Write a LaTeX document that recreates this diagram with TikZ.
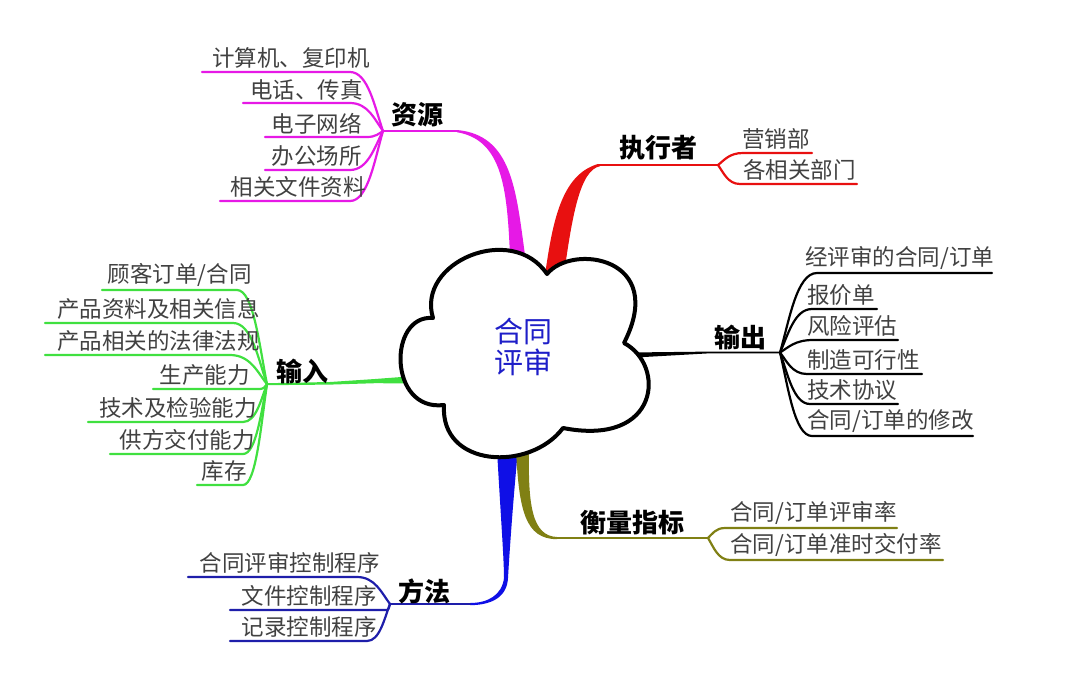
\documentclass[tikz,border=0pt]{standalone}
\usepackage{fontspec}
\newfontfamily\cjk{Noto Sans CJK SC}
\definecolor{mmmag}{RGB}{230,25,230}
\definecolor{mmred}{RGB}{232,16,16}
\definecolor{mmgreen}{RGB}{64,224,64}
\definecolor{mmblue}{RGB}{15,15,230}
\definecolor{mmblued}{RGB}{30,30,170}
\definecolor{mmolive}{RGB}{128,128,20}
\definecolor{leafgray}{RGB}{65,65,65}
\definecolor{centerblue}{RGB}{30,30,200}
\tikzset{
  leafline/.style={line width=2.2pt, line cap=round},
  leaftext/.style={font=\cjk\fontsize{22.5}{24}\selectfont, text=leafgray, inner sep=0pt},
  labeltext/.style={font=\cjk\bfseries\fontsize{26}{28}\selectfont, text=black, inner sep=0pt},
  centertext/.style={font=\cjk\fontsize{29}{31}\selectfont, text=centerblue, inner sep=0pt, align=center},
}
% left-side leaf: #1 name, #2 x1, #3 x2, #4 y, #5 text right x, #6 text, #7 fork, #8 colour
\newcommand{\mmL}[8]{%
  \coordinate (#1-s) at (#2,#4);
  \coordinate (#1-e) at (#3,#4);
  \draw[leafline,#8] (#1-s) -- (#1-e) .. controls ({#3+0.55*(\mmfx-#3)},#4) and ({\mmfx-0.25*(\mmfx-#3)},{\mmfy+0.4*(#4-\mmfy)}) .. (#7);
  \node[leaftext,anchor=south east] (#1) at (#5,#4-3) {#6};
}
% right-side leaf
\newcommand{\mmR}[8]{%
  \coordinate (#1-s) at (#2,#4);
  \coordinate (#1-e) at (#3,#4);
  \draw[leafline,#8] (#7) .. controls ({\mmfx+0.25*(#2-\mmfx)},{\mmfy+0.4*(#4-\mmfy)}) and ({\mmfx+0.45*(#2-\mmfx)},#4) .. (#1-s) -- (#1-e);
  \node[leaftext,anchor=south west] (#1) at (#5,#4-3) {#6};
}
\begin{document}
\begin{tikzpicture}[x=1pt,y=-1pt]
\useasboundingbox (0,0) rectangle (1080,675);
\fill[white] (0,0) rectangle (1080,675);

% ---------- trunks ----------
\fill[mmmag] (510,255) .. controls (507,190) and (503,140) .. (457,132.2) -- (457,130) .. controls (512,135) and (516,190) .. (525,255) -- cycle;
\fill[mmred] (544,282) .. controls (552,225) and (560,175) .. (598,164) -- (600,164) -- (600,166.2) .. controls (580,170) and (572,215) .. (563,282) -- cycle;
\fill[black] (630,352.5) -- (708,351.6) -- (780,351.6) -- (780,353.4) -- (708,353.4) -- (630,357.8) -- cycle;
\fill[mmgreen] (412,376.2) -- (375,379) -- (330,382) -- (267,383.2) -- (267,385.2) -- (330,384.6) -- (375,383.2) -- (412,383.4) -- cycle;
\fill[mmblue] (497,450) .. controls (501,520) and (504,560) .. (504,578) .. controls (502,595) and (488,603) .. (470,603) -- (470,605.2) .. controls (492,605) and (507,597) .. (508,578) .. controls (509,560) and (513,500) .. (518,450) -- cycle;
\fill[mmolive] (516,450) .. controls (519,510) and (525,539) .. (557,539.2) -- (557,537) .. controls (532,536) and (528,505) .. (529,450) -- cycle;

% ---------- cloud ----------
\coordinate (cA) at (433,318);
\coordinate (cB) at (547,274);
\coordinate (cC) at (624,343);
\coordinate (cD) at (563,428);
\coordinate (cE) at (444,405);
\draw[line width=4pt, line join=round, fill=white]
  (cA) .. controls (416,262) and (512,222) .. (cB)
       .. controls (572,243) and (668,257) .. (cC)
       .. controls (666,365) and (660,447) .. (cD)
       .. controls (530,472) and (440,468) .. (cE)
       .. controls (388,412) and (388,314) .. (cA) -- cycle;
\node[centertext] (center) at (523,347) {合同\\评审};

% ---------- 资源 ----------
\def\mmfx{383}\def\mmfy{131}
\coordinate (fzy) at (\mmfx,\mmfy);
\coordinate (tzy) at (457,131);
\draw[leafline,mmmag] (fzy) -- (tzy);
\node[labeltext] (lzy) at (417,115) {资源};
\mmL{zy1}{202}{350}{72}{370}{计算机、复印机}{fzy}{mmmag}
\mmL{zy2}{243}{350}{103}{363}{电话、传真}{fzy}{mmmag}
\mmL{zy3}{265}{367}{137}{362}{电子网络}{fzy}{mmmag}
\mmL{zy4}{265}{350}{170}{362}{办公场所}{fzy}{mmmag}
\mmL{zy5}{220}{350}{201}{366}{相关文件资料}{fzy}{mmmag}

% ---------- 执行者 ----------
\def\mmfx{718}\def\mmfy{165}
\coordinate (fzx) at (\mmfx,\mmfy);
\coordinate (tzx) at (598,165);
\draw[leafline,mmred] (tzx) -- (fzx);
\node[labeltext] (lzx) at (658,148) {执行者};
\mmR{zx1}{743}{812}{153}{742}{营销部}{fzx}{mmred}
\mmR{zx2}{740}{857}{184}{743}{各相关部门}{fzx}{mmred}

% ---------- 输出 ----------
\def\mmfx{780}\def\mmfy{352.5}
\coordinate (fsc) at (\mmfx,\mmfy);
\node[labeltext] (lsc) at (740,337) {输出};
\mmR{sc1}{817}{992}{273}{805}{经评审的合同/订单}{fsc}{black}
\mmR{sc2}{812}{877}{309}{807}{报价单}{fsc}{black}
\mmR{sc3}{813}{898}{340}{807}{风险评估}{fsc}{black}
\mmR{sc4}{807}{922}{374}{807}{制造可行性}{fsc}{black}
\mmR{sc5}{810}{898}{404}{807}{技术协议}{fsc}{black}
\mmR{sc6}{812}{973}{436}{807}{合同/订单的修改}{fsc}{black}

% ---------- 输入 ----------
\def\mmfx{267}\def\mmfy{384.2}
\coordinate (fsr) at (\mmfx,\mmfy);
\node[labeltext] (lsr) at (302,371) {输入};
\mmL{sr1}{102}{237}{290}{252}{顾客订单/合同}{fsr}{mmgreen}
\mmL{sr2}{45}{233}{323}{260}{产品资料及相关信息}{fsr}{mmgreen}
\mmL{sr3}{45}{230}{355}{260}{产品相关的法律法规}{fsr}{mmgreen}
\mmL{sr4}{153}{260}{389}{250}{生产能力}{fsr}{mmgreen}
\mmL{sr5}{88}{243}{422}{257}{技术及检验能力}{fsr}{mmgreen}
\mmL{sr6}{110}{243}{454}{255}{供方交付能力}{fsr}{mmgreen}
\mmL{sr7}{197}{243}{485}{247}{库存}{fsr}{mmgreen}

% ---------- 方法 ----------
\def\mmfx{390}\def\mmfy{604}
\coordinate (fff) at (\mmfx,\mmfy);
\coordinate (tff) at (470,604);
\draw[leafline,mmblued] (fff) -- (tff);
\node[labeltext] (lff) at (424,591) {方法};
\mmL{ff1}{188}{357}{577}{380}{合同评审控制程序}{fff}{mmblued}
\mmL{ff2}{230}{387}{610}{377}{文件控制程序}{fff}{mmblued}
\mmL{ff3}{230}{367}{641}{377}{记录控制程序}{fff}{mmblued}

% ---------- 衡量指标 ----------
\def\mmfx{708}\def\mmfy{538}
\coordinate (fhl) at (\mmfx,\mmfy);
\coordinate (thl) at (557,538);
\draw[leafline,mmolive] (thl) -- (fhl);
\node[labeltext] (lhl) at (632,523) {衡量指标};
\mmR{hl1}{725}{897}{528}{730}{合同/订单评审率}{fhl}{mmolive}
\mmR{hl2}{730}{943}{560}{730}{合同/订单准时交付率}{fhl}{mmolive}
\end{tikzpicture}
\end{document}
